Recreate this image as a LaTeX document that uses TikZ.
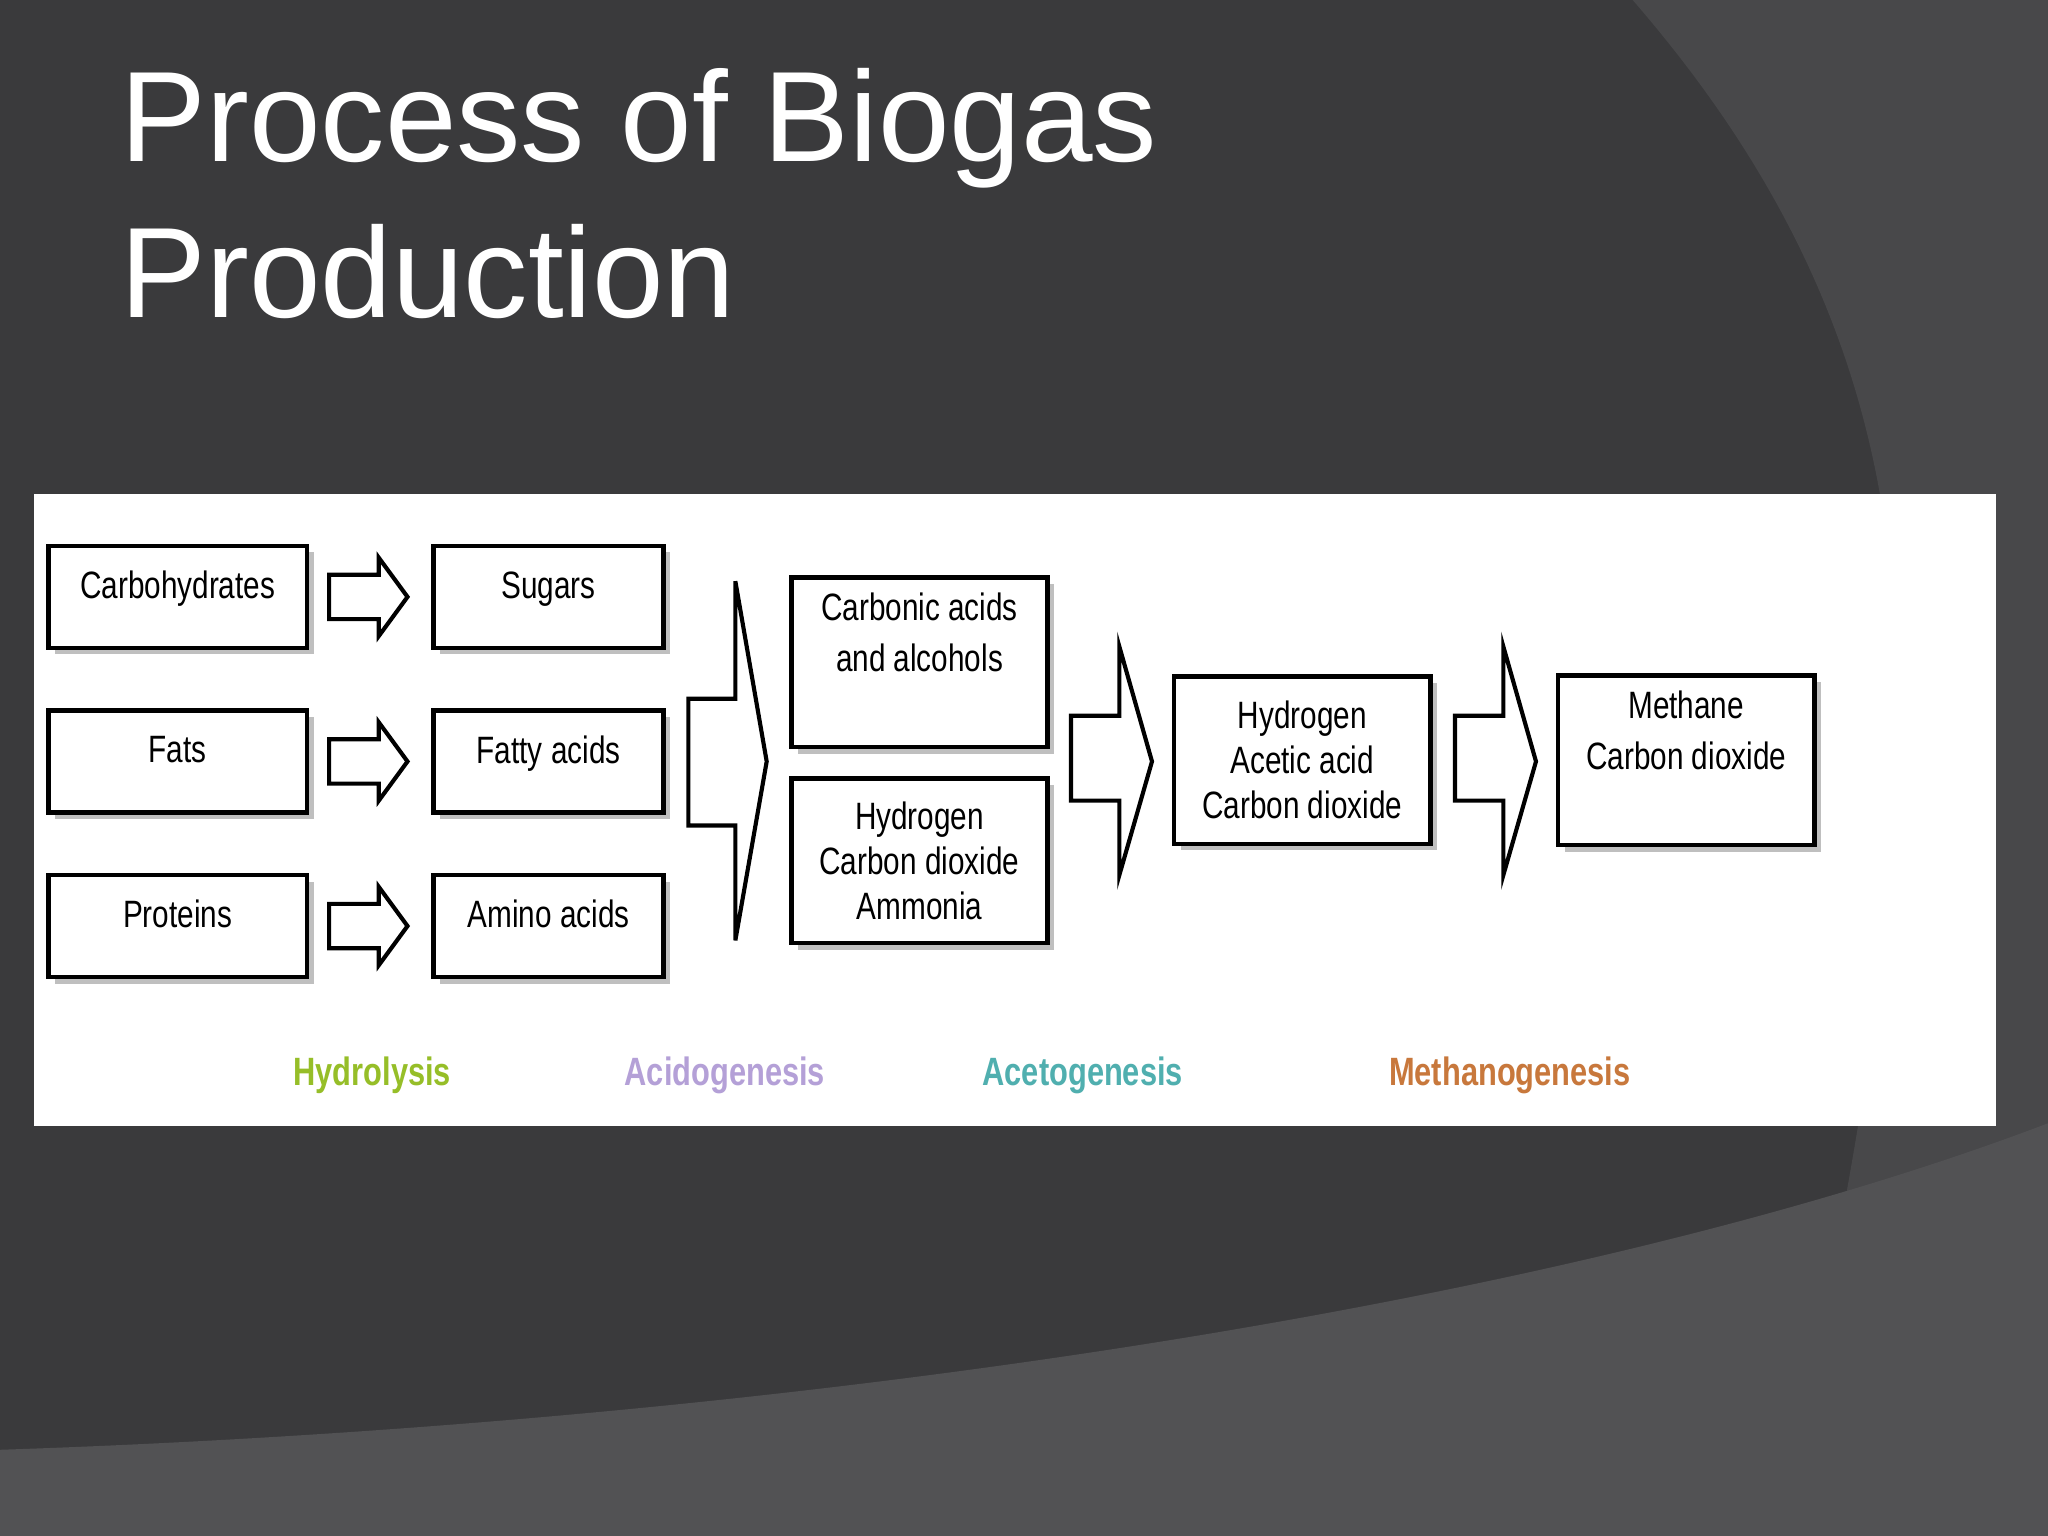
\documentclass[tikz,border=0pt]{standalone}
\usepackage{fontspec}
\usetikzlibrary{shadows}
\setmainfont{Liberation Sans}
\newfontfamily\nar[FakeStretch=0.78]{Liberation Sans}
\begin{document}
\begin{tikzpicture}[x=0.01cm,y=-0.01cm,
 box/.style={draw=black,line width=1pt,fill=white,minimum width=1.96cm,minimum height=0.78cm,
   font=\nar\fontsize{8.3}{9.8}\selectfont,align=center,
   drop shadow={shadow xshift=0.05cm,shadow yshift=-0.05cm,opacity=0.5}},
 arr/.style={draw=black,line width=0.9pt,fill=white},
 lab/.style={font=\nar\bfseries\fontsize{8.6}{10}\selectfont}]
\definecolor{bg}{HTML}{3A3A3C}
\definecolor{bgl}{HTML}{48484A}
\definecolor{bgb}{HTML}{525254}
\useasboundingbox (0,0) rectangle (1568,1176);
\fill[bg] (0,0) rectangle (1568,1176);
\fill[bgl] (1250,0) .. controls (1380,150) and (1440,300) .. (1450,470) .. controls (1460,700) and (1420,900) .. (1360,1176) -- (1568,1176) -- (1568,0) -- cycle;
\fill[bgb] (0,1110) .. controls (600,1090) and (1200,1000) .. (1568,860) -- (1568,1176) -- (0,1176) -- cycle;
\node[anchor=west,text=white,font=\fontsize{28}{34}\selectfont,align=left] (title) at (80,148) {Process of Biogas\\Production};
\fill[white] (26,378) rectangle (1528,862);
\node[box,minimum width=1.98cm] (carb) at (136,457) {\raisebox{1.2ex}{Carbohydrates}};
\node[box,minimum width=1.98cm] (fats) at (136,583) {\raisebox{1.2ex}{Fats}};
\node[box,minimum width=1.98cm] (prot) at (136,709) {\raisebox{1.2ex}{Proteins}};
\node[box,minimum width=1.76cm] (sug) at (420,457) {\raisebox{1.2ex}{Sugars}};
\node[box,minimum width=1.76cm] (fa) at (420,583) {\raisebox{1.2ex}{Fatty acids}};
\node[box,minimum width=1.76cm] (aa) at (420,709) {\raisebox{1.2ex}{Amino acids}};
\node[box,minimum height=1.27cm] (ca) at (704,507) {\raisebox{3ex}{\shortstack{Carbonic acids\\[2pt]and alcohols}}};
\node[box,minimum height=1.26cm] (hca) at (704,659) {Hydrogen\\Carbon dioxide\\Ammonia};
\node[box,minimum height=1.28cm] (hac) at (997,582) {Hydrogen\\Acetic acid\\Carbon dioxide};
\node[box,minimum height=1.28cm] (mc) at (1291,582) {\raisebox{3ex}{\shortstack{Methane\\[2pt]Carbon dioxide}}};
\foreach \y in {457,583,709}{
 \draw[arr] (252,\y-17) -- (290,\y-17) -- (290,\y-30) -- (312,\y) -- (290,\y+30) -- (290,\y+17) -- (252,\y+17) -- cycle;}
\draw[arr] (527,535) -- (563,535) -- (563,445) -- (587,583) -- (563,720) -- (563,632) -- (527,632) -- cycle;
\foreach \x in {820,1114}{
 \draw[arr] (\x,548) -- (\x+37,548) -- (\x+37,495) -- (\x+62,583) -- (\x+37,670) -- (\x+37,613) -- (\x,613) -- cycle;}
\node[lab,text={rgb,255:red,150;green,190;blue,40}] (l1) at (285,823) {Hydrolysis};
\node[lab,text={rgb,255:red,180;green,160;blue,215}] (l2) at (555,823) {Acidogenesis};
\node[lab,text={rgb,255:red,80;green,175;blue,175}] (l3) at (829,823) {Acetogenesis};
\node[lab,text={rgb,255:red,200;green,120;blue,60}] (l4) at (1156,823) {Methanogenesis};
\end{tikzpicture}
\end{document}
